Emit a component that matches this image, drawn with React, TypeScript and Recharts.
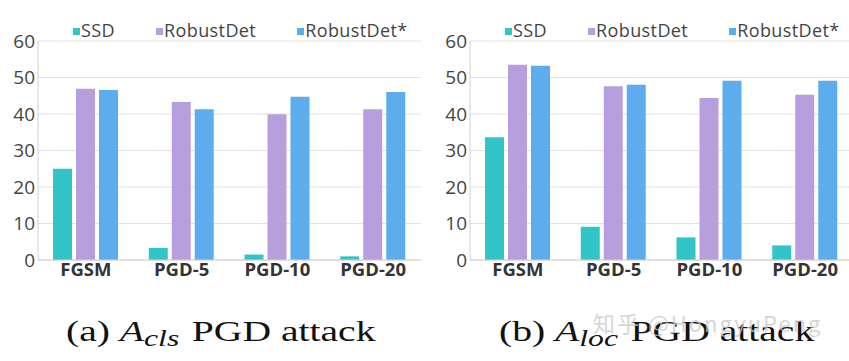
import React from 'react';
import { BarChart, Bar, XAxis, YAxis, CartesianGrid } from 'recharts';

const categories = ['FGSM', 'PGD-5', 'PGD-10', 'PGD-20'];
const seriesNames = ['SSD', 'RobustDet', 'RobustDet*'];
const clsSSD = [25.0, 3.3, 1.5, 1.0];
const clsRobustDet = [46.9, 43.3, 39.9, 41.3];
const clsRobustDetStar = [46.6, 41.3, 44.7, 46.0];
const locSSD = [33.6, 9.1, 6.2, 4.0];
const locRobustDet = [53.5, 47.6, 44.4, 45.3];
const locRobustDetStar = [53.2, 48.0, 49.1, 49.1];
const yTicks = [0, 10, 20, 30, 40, 50, 60];

const colors = ['#32C5C7', '#B69FDC', '#5DADEE'];

const build = (a: number[], b: number[], c: number[]) =>
  categories.map((name, i) => ({ name, s0: a[i], s1: b[i], s2: c[i] }));

const clsData = build(clsSSD, clsRobustDet, clsRobustDetStar);
const locData = build(locSSD, locRobustDet, locRobustDetStar);

const LegendBlock = ({ left }: { left: number }) => (
  <div
    style={{
      position: 'absolute',
      left,
      top: 19,
      display: 'flex',
      gap: 41,
      fontFamily: '"Open Sans", sans-serif',
      fontSize: 18,
      letterSpacing: 0.4,
      color: '#444',
      lineHeight: '22px',
      whiteSpace: 'nowrap',
    }}
  >
    {seriesNames.map((n, i) => (
      <div key={n} style={{ display: 'flex', alignItems: 'center', flex: 'none' }}>
        <span style={{ display: 'inline-block', width: 7, height: 7, background: colors[i], marginRight: 1, marginTop: 3 }} />
        <span>{n}</span>
      </div>
    ))}
  </div>
);

type PanelProps = { data: any[]; width: number; yWidth: number };

const Panel = ({ data, width, yWidth }: PanelProps) => (
  <BarChart
    width={width}
    height={290}
    data={data}
    margin={{ top: 41, right: 4, left: 0, bottom: 0 }}
    barSize={19}
    barGap={4}
  >
    <CartesianGrid vertical={false} stroke="#e2e2e2" strokeWidth={1} />
    <XAxis
      dataKey="name"
      height={30}
      tickLine={false}
      tickSize={0}
      tickMargin={3}
      axisLine={{ stroke: '#d0d0d0' }}
      tick={{ fontFamily: '"Open Sans", sans-serif', fontSize: 18.5, fontWeight: 700, fill: '#333' }}
      interval={0}
    />
    <YAxis
      width={yWidth}
      domain={[0, 60]}
      ticks={yTicks}
      tickLine={false}
      tickSize={0}
      tickMargin={3}
      axisLine={{ stroke: '#d0d0d0' }}
      tick={{ fontFamily: '"Open Sans", sans-serif', fontSize: 19, fill: '#444' }}
      interval={0}
    />
    <Bar dataKey="s0" name="SSD" fill={colors[0]} isAnimationActive={false} />
    <Bar dataKey="s1" name="RobustDet" fill={colors[1]} isAnimationActive={false} />
    <Bar dataKey="s2" name="RobustDet*" fill={colors[2]} isAnimationActive={false} />
  </BarChart>
);

const captionStyle: React.CSSProperties = {
  position: 'absolute',
  fontFamily: '"Liberation Serif", serif',
  fontSize: 30,
  color: '#111',
  whiteSpace: 'nowrap',
  lineHeight: '34px',
  transform: 'scaleX(1.32)',
  transformOrigin: 'left center',
};

const subStyle: React.CSSProperties = {
  fontSize: 24,
  fontStyle: 'italic',
  verticalAlign: '-5px',
  marginRight: 2,
};

export default function App() {
  return (
    <div style={{ position: 'absolute', left: 0, top: 0, width: 849, height: 361, overflow: 'hidden', background: '#fff' }}>
      <div style={{ position: 'absolute', left: 0, top: 0 }}>
        <Panel data={clsData} width={425} yWidth={38} />
      </div>
      <div style={{ position: 'absolute', left: 425, top: 0 }}>
        <Panel data={locData} width={432} yWidth={45} />
      </div>
      <LegendBlock left={73} />
      <LegendBlock left={505} />
      <div style={{ ...captionStyle, left: 66, top: 314 }}>
        (a) <i>A</i><sub style={subStyle}>cls</sub> PGD attack
      </div>
      <div style={{ ...captionStyle, left: 499, top: 314 }}>
        (b) <i>A</i><sub style={subStyle}>loc</sub> PGD attack
      </div>
      <div
        style={{
          position: 'absolute',
          left: 593,
          top: 307,
          fontFamily: '"Noto Sans CJK SC", "Noto Sans", sans-serif',
          fontSize: 22,
          letterSpacing: 2,
          lineHeight: '30px',
          color: 'rgba(200,200,200,0.75)',
          whiteSpace: 'nowrap',
        }}
      >
        知乎 @HongyuPeng
      </div>
    </div>
  );
}
